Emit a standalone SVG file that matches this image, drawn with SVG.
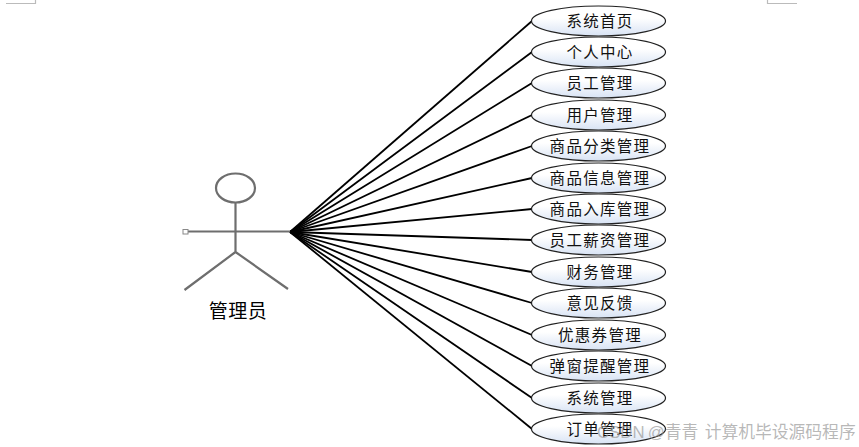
<svg xmlns="http://www.w3.org/2000/svg" width="859" height="447" viewBox="0 0 859 447">
<style>
text{font-family:"Liberation Serif","Noto Sans CJK SC",serif;fill:#000}
.u{font-size:15.5px;text-anchor:middle;letter-spacing:1.3px;fill:#111}
.e{fill:url(#g);stroke:#222;stroke-width:1.2}
.c line{stroke:#000;stroke-width:1.8}
.a{fill:none;stroke:#6e6e6e;stroke-width:2.2}
.m{fill:none;stroke:#bbb;stroke-width:1.2}
</style>
<defs><linearGradient id="g" x1="0" y1="0" x2="0" y2="1"><stop offset="0" stop-color="#fff"/><stop offset="0.4" stop-color="#fff"/><stop offset="1" stop-color="#d8e3f4"/></linearGradient></defs>
<rect width="859" height="447" fill="#fff"/>
<path class="m" d="M6 3.500H35.500V0M797 3.500H767.500V0"/>
<g id="connectors" class="c">
<line x1="290" y1="232" x2="532" y2="21"/><line x1="290" y1="232" x2="532" y2="52"/><line x1="290" y1="232" x2="532" y2="83"/><line x1="290" y1="232" x2="532" y2="115"/><line x1="290" y1="232" x2="532" y2="146"/><line x1="290" y1="232" x2="532" y2="178"/><line x1="290" y1="232" x2="532" y2="209"/><line x1="290" y1="232" x2="532" y2="240"/><line x1="290" y1="232" x2="532" y2="272"/><line x1="290" y1="232" x2="532" y2="303"/><line x1="290" y1="232" x2="532" y2="335"/><line x1="290" y1="232" x2="532" y2="366"/><line x1="290" y1="232" x2="532" y2="398"/><line x1="290" y1="232" x2="532" y2="429"/>
</g>
<g id="actor">
<ellipse class="a" cx="235.500" cy="188" rx="19.500" ry="14.500"/>
<path class="a" d="M235.500 203V252M188 231.500H290M235.500 252L184.500 290M235.500 252L288 289"/>
<rect x="183" y="229.500" width="5" height="4.500" fill="#fff" stroke="#888" stroke-width="1"/>
<text x="238" y="318" font-size="19" text-anchor="middle" letter-spacing="0.500" fill="#222">管理员</text>
</g>
<g id="u1"><ellipse class="e" cx="598.500" cy="21" rx="67" ry="15"/><text class="u" x="600" y="27">系统首页</text></g>
<g id="u2"><ellipse class="e" cx="598.500" cy="52" rx="67" ry="15"/><text class="u" x="600" y="58">个人中心</text></g>
<g id="u3"><ellipse class="e" cx="598.500" cy="83" rx="67" ry="15"/><text class="u" x="600" y="89">员工管理</text></g>
<g id="u4"><ellipse class="e" cx="598.500" cy="115" rx="67" ry="15"/><text class="u" x="600" y="121">用户管理</text></g>
<g id="u5"><ellipse class="e" cx="598.500" cy="146" rx="67" ry="15"/><text class="u" x="600" y="152">商品分类管理</text></g>
<g id="u6"><ellipse class="e" cx="598.500" cy="178" rx="67" ry="15"/><text class="u" x="600" y="184">商品信息管理</text></g>
<g id="u7"><ellipse class="e" cx="598.500" cy="209" rx="67" ry="15"/><text class="u" x="600" y="215">商品入库管理</text></g>
<g id="u8"><ellipse class="e" cx="598.500" cy="240" rx="67" ry="15"/><text class="u" x="600" y="246">员工薪资管理</text></g>
<g id="u9"><ellipse class="e" cx="598.500" cy="272" rx="67" ry="15"/><text class="u" x="600" y="278">财务管理</text></g>
<g id="u10"><ellipse class="e" cx="598.500" cy="303" rx="67" ry="15"/><text class="u" x="600" y="309">意见反馈</text></g>
<g id="u11"><ellipse class="e" cx="598.500" cy="335" rx="67" ry="15"/><text class="u" x="600" y="341">优惠券管理</text></g>
<g id="u12"><ellipse class="e" cx="598.500" cy="366" rx="67" ry="15"/><text class="u" x="600" y="372">弹窗提醒管理</text></g>
<g id="u13"><ellipse class="e" cx="598.500" cy="398" rx="67" ry="15"/><text class="u" x="600" y="404">系统管理</text></g>
<g id="u14"><ellipse class="e" cx="598.500" cy="429" rx="67" ry="15"/><text class="u" x="600" y="435">订单管理</text></g>
<text x="597" y="438" font-size="16.800" word-spacing="-1.500" xml:space="preserve" style="font-family:'Liberation Sans','Noto Sans CJK SC',sans-serif;fill:#999;fill-opacity:.7">CSDN @青青  计算机毕设源码程序</text>
</svg>
